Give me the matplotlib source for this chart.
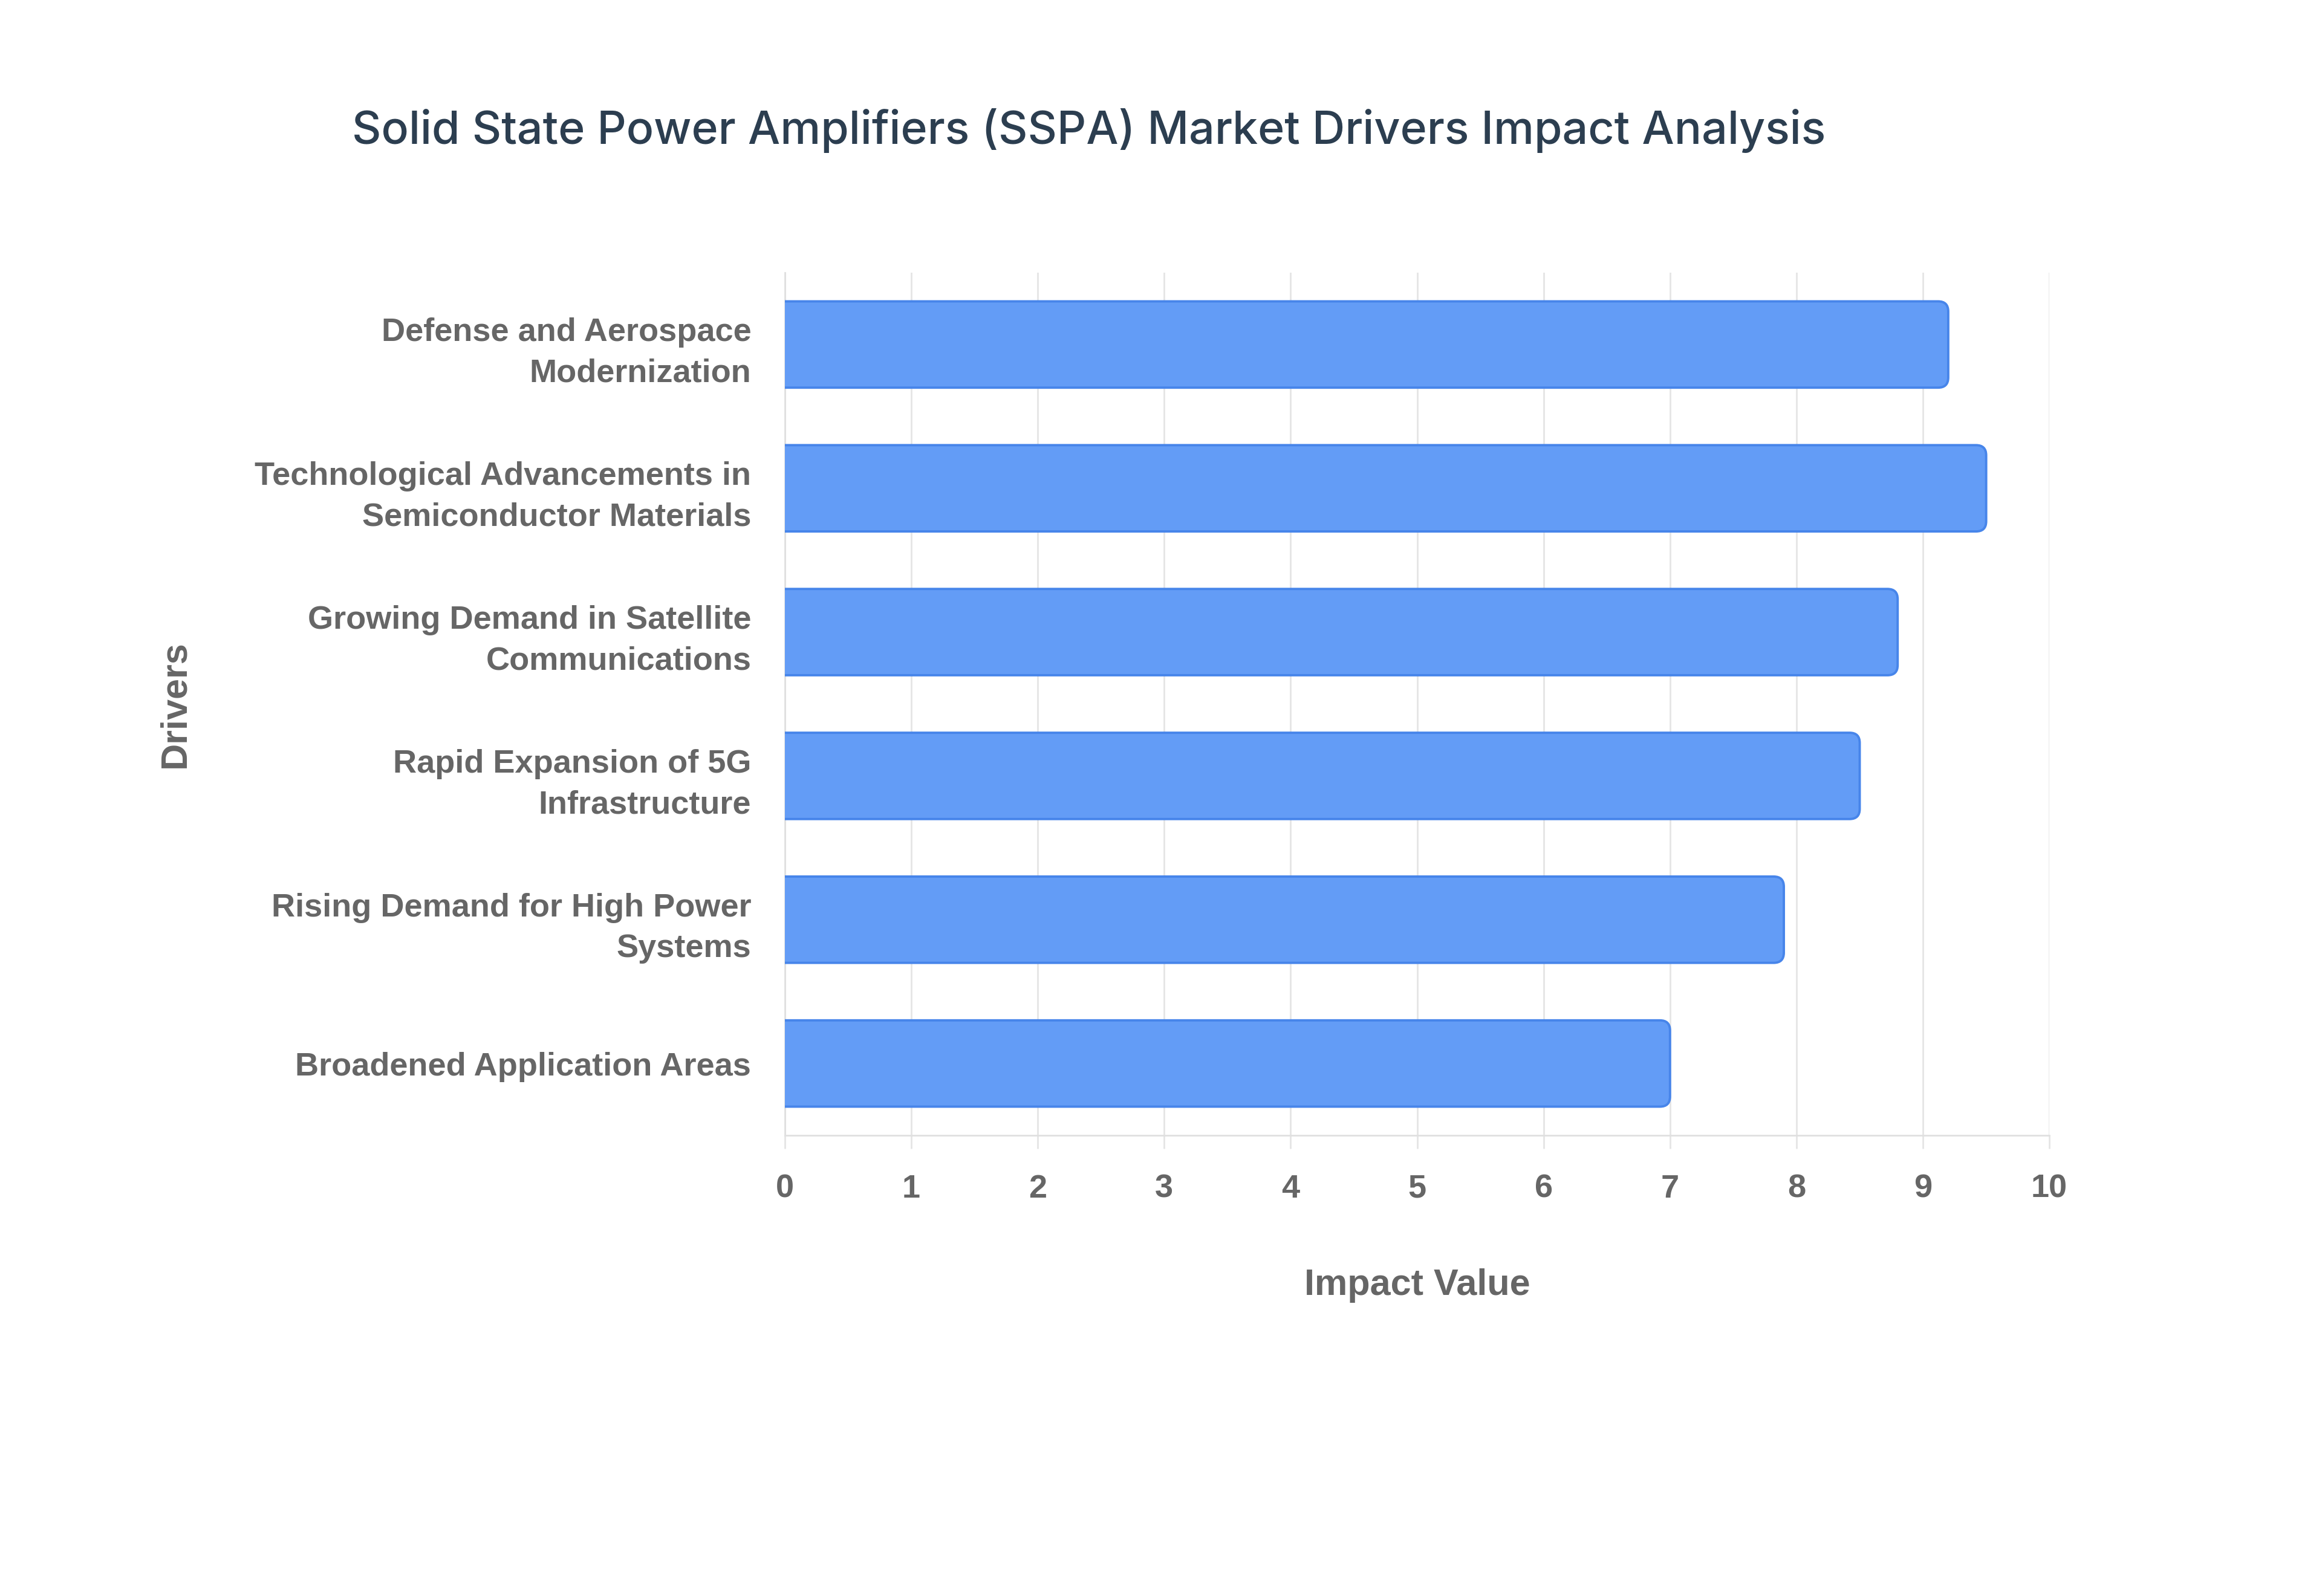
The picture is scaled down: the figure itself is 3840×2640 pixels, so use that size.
import matplotlib.pyplot as plt
from matplotlib.patches import FancyBboxPatch

# datos
drivers = [
    "Defense and Aerospace\nModernization",
    "Technological Advancements in\nSemiconductor Materials",
    "Growing Demand in Satellite\nCommunications",
    "Rapid Expansion of 5G\nInfrastructure",
    "Rising Demand for High Power\nSystems",
    "Broadened Application Areas",
]
impact = [9.2, 9.5, 8.8, 8.5, 7.9, 7.0]
xticks = [0, 1, 2, 3, 4, 5, 6, 7, 8, 9, 10]

fig = plt.figure(figsize=(19.2, 13.2), dpi=200)
ax = fig.add_axes([0.338, 0.2886, 0.5446, 0.5406])

n = len(drivers)
ax.set_xlim(0, 10)
ax.set_ylim(n - 0.5, -0.5)

# escala de pixeles para redondear las esquinas
bbox = ax.get_position()
px_x = bbox.width * fig.get_figwidth() * fig.dpi / 10.0
px_y = bbox.height * fig.get_figheight() * fig.dpi / n
aspect = px_x / px_y

h = 0.6
for i, v in enumerate(impact):
    barra = FancyBboxPatch((-0.3, i - h / 2), v + 0.3, h,
                           boxstyle="round,pad=0,rounding_size=0.08",
                           mutation_aspect=aspect,
                           facecolor=(0.39, 0.61, 0.965), edgecolor="#4785ea",
                           linewidth=1.4, zorder=3, clip_on=True)
    ax.add_patch(barra)

ax.set_xticks(xticks)
ax.set_yticks(range(n))
ax.set_yticklabels(drivers, fontsize=19.5, fontweight="bold", color="#666666",
                   family="Liberation Sans", linespacing=1.45)
ax.set_xticklabels([str(t) for t in xticks], fontsize=19.5, fontweight="bold",
                   color="#666666", family="Liberation Sans")

ax.grid(axis="x", color="#e5e5e5", linewidth=1.0)
ax.set_axisbelow(True)
ax.tick_params(axis="x", length=8, width=1.0, color="#e5e5e5", pad=15)
ax.tick_params(axis="y", length=0, pad=20)
for lado in ["top", "right"]:
    ax.spines[lado].set_visible(False)
for lado in ["left", "bottom"]:
    ax.spines[lado].set_color("#e0e0e0")
    ax.spines[lado].set_linewidth(1.0)

ax.set_xlabel("Impact Value", fontsize=22, fontweight="bold", color="#666666",
              family="Liberation Sans", labelpad=38)
ax.set_ylabel("Drivers", fontsize=22, fontweight="bold", color="#666666",
              family="Liberation Sans", labelpad=37)

fig.text(0.469, 0.918, "Solid State Power Amplifiers (SSPA) Market Drivers Impact Analysis",
         fontsize=27.1, color="#2c3e50", family="Inter", fontweight="medium",
         ha="center", va="center")

fig.savefig("out.png", dpi=200, facecolor="white")
